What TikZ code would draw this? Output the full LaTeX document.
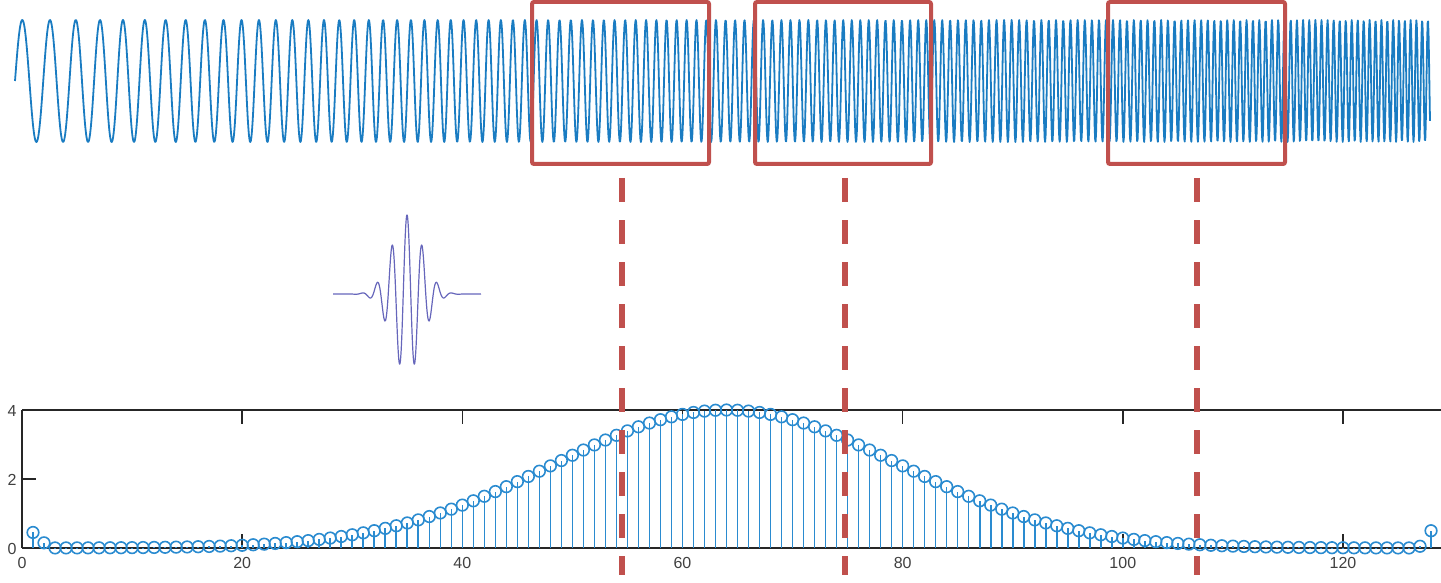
\documentclass[tikz,border=0pt]{standalone}
\usepackage{fontspec}
\setmainfont{Liberation Sans}
\usetikzlibrary{calc}
\definecolor{mblue}{HTML}{1A7CC2}
\definecolor{sblue}{HTML}{2A8BD0}
\definecolor{dred}{HTML}{C0504D}
\definecolor{wavc}{HTML}{6666BB}
\definecolor{axc}{HTML}{262626}
\definecolor{lblc}{HTML}{404040}
\tikzset{
  chirp/.style={draw=mblue, line width=0.9pt, line join=round},
  wavelet/.style={draw=wavc, line width=0.6pt, line join=round},
  redbox/.style={draw=dred, line width=2pt, rounded corners=1pt, inner sep=0pt, fill=none},
  reddash/.style={draw=dred, line width=3pt, dash pattern=on 12pt off 9pt},
  stemline/.style={draw=sblue, line width=0.8pt},
  axisline/.style={draw=axc, line width=0.8pt},
  ticklbl/.style={text=lblc, font=\fontsize{8}{9}\selectfont, inner sep=0pt}
}
\begin{document}
\begin{tikzpicture}[x=0.5pt,y=-0.5pt]
\useasboundingbox (0,0) rectangle (1441,583);

% chirp signal
\draw[chirp] plot[domain=0:1415, samples=3001]
  ({15+\x},{81-61*sin(360*mod(0.034*\x+0.497*(\x/100)*(\x/100),1))});

% wavelet
\draw[wavelet] plot[domain=-74:74, samples=601]
  ({407+\x},{294-79*exp(-(\x*\x)/460)*cos(24*\x)});

% axes
\draw[axisline] (22,410) -- (1441,410);
\draw[axisline] (22,548) -- (1441,548);
\draw[axisline] (22,410) -- (22,548);
\foreach \k in {20,40,...,120} {
  \pgfmathsetmacro{\xx}{22+11.008*\k}
  \draw[axisline] (\xx,548) -- (\xx,534);
  \draw[axisline] (\xx,410) -- (\xx,424);
  \node[ticklbl] (xl\k) at (\xx,563) {\k};
}
\node[ticklbl] (xl0) at (22,563) {0};
\draw[axisline] (22,479) -- (36,479);
\node[ticklbl] (yl4) at (12,411) {4};
\node[ticklbl] (yl2) at (12,480) {2};
\node[ticklbl] (yl0) at (12,549) {0};

% stems
\foreach \n in {1,...,128} {
  \pgfmathsetmacro{\v}{4*exp(-((\n-64)*(\n-64))/493)}
  \ifnum\n=1 \def\v{0.45}\fi
  \ifnum\n=2 \def\v{0.15}\fi
  \ifnum\n=127 \def\v{0.05}\fi
  \ifnum\n=128 \def\v{0.5}\fi
  \pgfmathsetmacro{\xx}{22+11.008*\n}
  \pgfmathsetmacro{\yy}{548-34.5*\v}
  \draw[stemline] (\xx,548) -- (\xx,\yy);
  \draw[stemline] (\xx,\yy) circle[radius=2.9pt];
}

% red boxes
\node[redbox, minimum width=88.5pt, minimum height=81pt] (b1) at (620.5,83) {};
\node[redbox, minimum width=88pt, minimum height=81pt] (b2) at (843,83) {};
\node[redbox, minimum width=88.5pt, minimum height=81pt] (b3) at (1196.5,83) {};

% dashed lines
\coordinate (e1) at (622,575);
\coordinate (e2) at (845,575);
\coordinate (e3) at (1197,575);
\draw[reddash] ($(b1.south)+(1.5,12)$) -- (e1);
\draw[reddash] ($(b2.south)+(2,12)$) -- (e2);
\draw[reddash] ($(b3.south)+(0.5,12)$) -- (e3);
\end{tikzpicture}
\end{document}
